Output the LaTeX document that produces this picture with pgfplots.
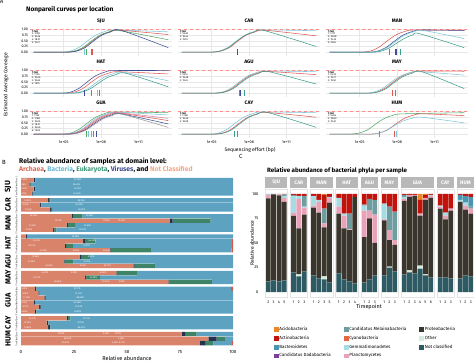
\documentclass[border=0pt]{standalone}
\usepackage{pgfplots}
\pgfplotsset{compat=1.18}
\usepackage{pgfplotstable}
\usepackage{fontspec}
\setmainfont{Fira Sans}
\newcommand{\fs}[1]{\fontsize{#1}{#1}\selectfont}
% panel A colours
\definecolor{aRed}{HTML}{DD5A52}
\definecolor{aNavy}{HTML}{3C4F96}
\definecolor{aTeal}{HTML}{3C9C8C}
\definecolor{aLight}{HTML}{7FC6D9}
\definecolor{aGreen}{HTML}{55A868}
\definecolor{aGray}{HTML}{9A9A9A}
\definecolor{aPink}{HTML}{D982A8}
% panel B colours
\definecolor{bArch}{HTML}{D9836B}
\definecolor{bVir}{HTML}{24324F}
\definecolor{bEuk}{HTML}{3F8466}
\definecolor{bBac}{HTML}{5DA3C1}
\definecolor{bNC}{HTML}{D9574A}
\definecolor{tArch}{HTML}{DA6A55}
\definecolor{tBac}{HTML}{6EB6D3}
\definecolor{tEuk}{HTML}{3E9A7C}
\definecolor{tVir}{HTML}{3B4A8B}
\definecolor{tNC}{HTML}{F3A584}
% panel C colours
\definecolor{cNC}{HTML}{2E5B63}
\definecolor{cOt}{HTML}{D5ECDD}
\definecolor{cPr}{HTML}{3B362D}
\definecolor{cPl}{HTML}{E8A3B9}
\definecolor{cGe}{HTML}{A6DCE6}
\definecolor{cCy}{HTML}{E4673F}
\definecolor{cMe}{HTML}{6F9C9F}
\definecolor{cDa}{HTML}{7A3E9D}
\definecolor{cBa}{HTML}{4A96B0}
\definecolor{cAc}{HTML}{C1120B}
\definecolor{cAd}{HTML}{E8882A}
\definecolor{stripC}{HTML}{B8B8B8}

\pgfplotsset{/pgf/number format/assume math mode=true}
\pgfplotsset{
 np/.style={scale only axis, width=142pt, height=28pt, xmin=2.3, xmax=13.7, ymin=-0.17, ymax=1.07,
  axis line style={draw=none}, tick style={draw=none},
  xtick={5,8,11}, ytick={0,0.25,0.5,0.75,1},
  grid=major, grid style={gray!18, line width=0.3pt},
  xticklabels={}, yticklabels={},
  title style={font=\bfseries\fs{5}, yshift=-4.5pt},
  clip=false, anchor=north west},
 npleft/.style={yticklabels={0.00,0.25,0.50,0.75,1.00}, yticklabel style={font=\fs{3.6}, xshift=1.5pt}},
 npbottom/.style={xticklabels={1e+05,1e+08,1e+11}, xticklabel style={font=\fs{3.8}, yshift=1pt}},
 cv/.style={smooth, tension=0.5, line width=0.55pt, mark=none},
 mk/.style={line width=0.7pt, mark=none},
 dl/.style={red!45, dashed, line width=0.3pt, mark=none},
}
\newcommand{\nd}[1]{\node[anchor=north west, align=left, font=\fontsize{2.5}{2.9}\selectfont, inner sep=0pt] at (rel axis cs:0.012,0.93) {#1};}
\newcommand{\grp}[2]{\node[rotate=90, font=\bfseries\fs{7.5}, inner sep=0pt] at (axis cs:-6.1,#1) {#2};}
\newcommand{\fr}[2]{\draw[gray!22, line width=0.3pt] (axis cs:#1,-5) rectangle (axis cs:#2,105);}
\newcommand{\strip}[3]{\node[fill=stripC, text=white, font=\bfseries\fs{5}, minimum width=#2pt, minimum height=10.5pt, inner sep=0pt, anchor=south, yshift=1pt] at (axis cs:#1,105) {#3};}

\pgfplotstableread{
y a v e b n
179.93 6.0 0.5 0.3 93.2 0
184.48 4.0 0.4 0.2 95.4 0
189.03 6.0 0.6 0.3 93.1 0
193.58 5.0 0.5 0.2 94.3 0
200.34 12.8 0.7 0.3 86.2 0
204.89 9.0 0.4 0.2 90.4 0
209.44 13.7 0.7 0.3 85.3 0
216.2 24 0.5 4.5 71 0
220.75 70.2 1.3 18 10.5 0
225.3 21.5 0.6 3.4 74.5 0
229.85 15.2 0.5 1.0 83.3 0
236.61 2.4 0.5 0.1 97 0
241.16 29.3 0.8 5 64.4 0.5
245.71 20.7 0.6 3.2 75 0.5
250.26 42 0.3 19.3 37.7 0.7
257.02 27.8 0.6 4.1 67.5 0
261.57 20.3 0.3 4.1 75.3 0
266.12 53 0.6 9.6 36.8 0
272.88 45 0.6 9 45.4 0
277.43 30.2 0.6 6.5 62.7 0
281.98 69.5 0.5 20 10 0
288.74 6.6 0.4 0.2 91.8 1.0
293.29 8.2 0.4 0.2 91.2 0
297.84 11 0.6 0.3 88.1 0
302.39 6.1 0.4 0.2 93.3 0
306.94 8.6 0.6 0.2 90.6 0
311.49 6.6 0.4 0.2 92.8 0
318.25 21.5 0.6 1.2 76.7 0
322.8 12.1 0.6 0.2 87.1 0
327.35 12.8 0.8 0.3 86.1 0
334.11 75.8 1.6 5.5 17.1 0
338.66 88.4 3.9 4.2 3.5 0
343.21 84.4 2.4 4 8.7 0.5
}\tabB

\pgfplotstableread{
x y l
3.0 179.93 6.02
53.4 179.93 93.18
2.0 184.48 3.98
52.3 184.48 95.42
3.0 189.03 5.97
53.45 189.03 93.12
2.5 193.58 4.95
52.85 193.58 94.30
6.4 200.34 12.81
56.9 200.34 86.19
4.5 204.89 9.02
54.8 204.89 90.38
6.85 209.44 13.66
57.35 209.44 85.31
12 216.2 24.05
64.5 216.2 70.98
35.1 220.75 70.21
80.5 220.75 17.96
94.75 220.75 10.49
10.75 225.3 21.49
62.75 225.3 74.52
7.6 229.85 15.18
58.35 229.85 83.31
51.5 236.61 96.98
14.65 241.16 29.31
67.3 241.16 64.39
10.35 245.71 20.72
62 245.71 75.01
21 250.26 42.03
51.95 250.26 19.31
80.45 250.26 37.66
13.9 257.02 27.83
66.25 257.02 67.52
10.15 261.57 20.28
62.35 261.57 75.33
26.5 266.12 53.02
58.4 266.12 9.61
81.6 266.12 36.77
22.5 272.88 44.97
50.1 272.88 9.02
77.3 272.88 45.41
15.1 277.43 30.22
68.65 277.43 62.69
34.75 281.98 69.48
80 281.98 20.03
95 281.98 9.99
3.3 288.74 6.61
53.1 288.74 91.77
4.1 293.29 8.19
54.4 293.29 91.21
5.5 297.84 11.02
55.95 297.84 88.08
3.05 302.39 6.12
53.35 302.39 93.28
4.3 306.94 8.57
54.7 306.94 90.63
3.3 311.49 6.58
53.6 311.49 92.82
10.75 318.25 21.47
61.65 318.25 76.71
6.05 322.8 12.09
56.45 322.8 87.12
6.4 327.35 12.83
56.95 327.35 86.07
37.9 334.11 75.81
80.15 334.11 5.49
91.45 334.11 17.12
44.2 338.66 88.40
94.4 338.66 4.18
42.2 343.21 84.37
88.8 343.21 4.02
95.15 343.21 8.71
}\labB

\pgfplotstableread{
x nc ot pr pl ge cy me da ba ac ad
268.2 11 0 84.5 3.5 0.5 0 0.3 0 0.2 0 0
273.5 12 0 87.5 0.3 0 0 0 0 0.2 0 0
278.9 11 0 87.5 1.0 0.3 0 0 0 0 0.2 0
284.2 12 0 80 4 2 0 1.5 0 0 0.5 0
293.5 20 0 57.5 3 17 0 1.5 0 0 1 0
298.8 16 2 47 30 3 0 0 0 0 2 0
304.2 21 0 58 7 1 0 11 0 0 2 0
313.5 17 0 69 2 10 0 0 0 0 2 0
318.8 14 0 67 11 2 0 0 0 0 6 0
324.2 13 3 50 4 0 0 15 0 0 14 1
329.5 10 0 81 5 1 0 0 0 0 3 0
338.8 19 0 61 7 9 0 0 0 0 4 0
344.1 13 0 52 13 2 0 0 0 0 20 0
349.5 11 0 52 1 0 0 16 0 0 20 0
354.8 9 0 88 0 0 0 0 0 0 3 0
364.1 10 0 46 27 5 0 1 0 0 11 0
369.4 13 0 62 8 0 0 12 0 0 5 0
374.8 17 0 33 29 0 0 15 0 0 6 0
384.1 17 0 56 1 16 0 0 0 0 10 0
389.4 25 1 27 10 0 0 24 0 0 13 0
394.8 21 0 27 5 0 0 29 0 0 18 0
404.1 18 0 75 2 2 0 2 0 0 1 0
409.4 20 2 75 2 0 0 0 0 0 1 0
414.8 19 0 79 1 0 0 0 0 0 1 0
420.1 24 3 51 2 0 0 0 0 0 14 6
425.4 17 1 76 2 0 0 0 0 0 3 1
430.8 15 0 81 2 1 0 0 0 0 1 0
440.1 15 0 70 2 1 0 0 0 0 12 0
445.4 15 0 59 4 3 0 0 0 0 19 0
450.8 14 0 69 2 0 0 0 0 0 15 0
460.1 14 0 78 0 2 0 0 0 5 1 0
465.4 17 0 67 4 3 0 0 0 7 2 0
470.8 16 0 64 5 0 0 2 0 10 3 0
}\tabC

\begin{document}
\begin{tikzpicture}[x=1pt,y=1pt]
\useasboundingbox (0pt,0pt) rectangle (474pt,361pt);

% ================= Panel A =================
\node[anchor=north west, font=\fs{5.5}, inner sep=0pt] at (0pt,361pt) {A};
\node[anchor=west, font=\bfseries\fs{6.5}, inner sep=0pt] at (26pt,351pt) {Nonpareil curves per location};
\node[rotate=90, font=\fs{5}] at (6pt,276pt) {Estimated Average Coverage};
\node[font=\fs{5}] at (250pt,211pt) {Sequencing effort (bp)};

% SJU
\begin{axis}[np, npleft, at={(30pt,333pt)}, title={SJU}]
\addplot[dl] coordinates {(2.3,1)(13.7,1)};
\addplot[aLight, cv] coordinates {(2.6,0)(4.7,0)(5.5,0.04)(6.2,0.2)(6.9,0.49)(7.6,0.76)(8.3,0.91)(9.1,0.98)(13.4,0.9)};
\addplot[aRed, cv] coordinates {(2.6,0)(5.1,0)(5.9,0.04)(6.6,0.19)(7.3,0.49)(8.0,0.76)(8.7,0.9)(9.5,0.97)(13.4,0.78)};
\addplot[aGreen, cv] coordinates {(2.6,0)(5.0,0)(5.8,0.04)(6.5,0.19)(7.2,0.48)(7.9,0.75)(8.6,0.89)(9.4,0.96)(13.4,0.55)};
\addplot[aNavy, cv] coordinates {(2.6,0)(5.2,0)(6.0,0.04)(6.7,0.19)(7.4,0.49)(8.1,0.76)(8.8,0.9)(9.6,0.97)(13.4,0.2)};
\addplot[aLight, mk] coordinates {(6.7,-0.13)(6.7,0.12)};
\addplot[aGreen, mk] coordinates {(6.85,-0.13)(6.85,0.12)};
\addplot[aRed, mk] coordinates {(7.2,-0.13)(7.2,0.12)};
\addplot[aRed, mk] coordinates {(7.32,-0.13)(7.32,0.12)};
\nd{\textbf{T: Nd:}\\2: 17.98\\3: 18.36\\4: 18.57\\5: 19.21}
\end{axis}
% CAR
\begin{axis}[np, at={(178pt,333pt)}, title={CAR}]
\addplot[dl] coordinates {(2.3,1)(13.7,1)};
\addplot[aLight, cv] coordinates {(2.6,0)(4.8,0)(5.6,0.04)(6.3,0.2)(7.0,0.49)(7.7,0.76)(8.4,0.91)(9.2,0.98)(13.4,0.95)};
\addplot[aRed, cv] coordinates {(2.6,0)(4.9,0)(5.7,0.04)(6.4,0.19)(7.1,0.49)(7.8,0.76)(8.5,0.9)(9.3,0.97)(13.4,0.72)};
\addplot[aTeal, cv] coordinates {(2.6,0)(4.8,0)(5.6,0.04)(6.3,0.19)(7.0,0.48)(7.7,0.75)(8.4,0.89)(9.2,0.96)(13.4,0.25)};
\addplot[aNavy, mk] coordinates {(7.1,-0.13)(7.1,0.12)};
\nd{\textbf{T: Nd:}\\1: 18.02\\2: 18.44\\3: 19.10}
\end{axis}
% MAN
\begin{axis}[np, at={(326pt,333pt)}, title={MAN}]
\addplot[dl] coordinates {(2.3,1)(13.7,1)};
\addplot[aRed, cv] coordinates {(2.6,0)(5.0,0)(5.8,0.04)(6.5,0.2)(7.2,0.49)(7.9,0.76)(8.6,0.91)(9.4,0.98)(13.4,0.97)};
\addplot[aNavy, cv] coordinates {(2.6,0)(5.6,0)(6.4,0.04)(7.1,0.2)(7.8,0.49)(8.5,0.76)(9.2,0.91)(10.0,0.98)(13.4,0.96)};
\addplot[aLight, cv] coordinates {(2.6,0)(5.7,0)(6.5,0.04)(7.2,0.19)(7.9,0.48)(8.6,0.75)(9.3,0.89)(10.1,0.96)(13.4,0.6)};
\addplot[aTeal, cv] coordinates {(2.6,0)(5.8,0)(6.6,0.03)(7.3,0.16)(8.0,0.41)(8.7,0.64)(9.3,0.77)(9.8,0.82)(13.4,0.2)};
\addplot[aRed, mk] coordinates {(7.4,-0.13)(7.4,0.12)};
\addplot[aNavy, mk] coordinates {(7.85,-0.13)(7.85,0.12)};
\addplot[aNavy, mk] coordinates {(7.95,-0.13)(7.95,0.12)};
\addplot[aTeal, mk] coordinates {(8.3,-0.13)(8.3,0.12)};
\nd{\textbf{T: Nd:}\\1: 17.71\\2: 18.88\\3: 19.35\\5: 19.94}
\end{axis}
% HAT
\begin{axis}[np, npleft, at={(30pt,292pt)}, title={HAT}]
\addplot[dl] coordinates {(2.3,1)(13.7,1)};
\addplot[aNavy, cv] coordinates {(2.6,0)(4.7,0)(5.5,0.04)(6.2,0.2)(6.9,0.5)(7.6,0.78)(8.3,0.93)(9.1,1.0)(13.4,1.0)};
\addplot[aRed, cv] coordinates {(2.6,0)(5.0,0)(5.8,0.04)(6.5,0.19)(7.2,0.48)(7.9,0.74)(8.6,0.88)(9.4,0.95)(13.4,0.85)};
\addplot[aLight, cv] coordinates {(2.6,0)(5.4,0)(6.2,0.04)(6.9,0.18)(7.6,0.46)(8.3,0.72)(9.0,0.86)(9.8,0.92)(13.4,0.55)};
\addplot[aTeal, cv] coordinates {(2.6,0)(5.6,0)(6.4,0.04)(7.1,0.18)(7.8,0.44)(8.5,0.69)(9.2,0.82)(10.0,0.88)(13.4,0.28)};
\addplot[aNavy, mk] coordinates {(6.7,-0.13)(6.7,0.12)};
\addplot[aRed, mk] coordinates {(7.2,-0.13)(7.2,0.12)};
\addplot[aLight, mk] coordinates {(7.7,-0.13)(7.7,0.12)};
\addplot[aTeal, mk] coordinates {(7.85,-0.13)(7.85,0.12)};
\nd{\textbf{T: Nd:}\\1: 17.25\\2: 18.06\\3: 18.62\\4: 19.15}
\end{axis}
% AGU
\begin{axis}[np, at={(178pt,292pt)}, title={AGU}]
\addplot[dl] coordinates {(2.3,1)(13.7,1)};
\addplot[aLight, cv] coordinates {(2.6,0)(5.0,0)(5.8,0.04)(6.5,0.2)(7.2,0.49)(7.9,0.76)(8.6,0.91)(9.4,0.98)(13.4,0.95)};
\addplot[aRed, cv] coordinates {(2.6,0)(5.1,0)(5.9,0.04)(6.6,0.19)(7.3,0.48)(8.0,0.75)(8.7,0.89)(9.5,0.96)(13.4,0.82)};
\addplot[aTeal, cv] coordinates {(2.6,0)(5.2,0)(6.0,0.04)(6.7,0.19)(7.4,0.48)(8.1,0.74)(8.8,0.88)(9.6,0.95)(13.4,0.4)};
\addplot[aRed, mk] coordinates {(7.2,-0.13)(7.2,0.12)};
\addplot[aNavy, mk] coordinates {(7.32,-0.13)(7.32,0.12)};
\addplot[aTeal, mk] coordinates {(7.6,-0.13)(7.6,0.12)};
\nd{\textbf{T: Nd:}\\1: 18.13\\2: 18.48\\3: 19.24}
\end{axis}
% MAY
\begin{axis}[np, at={(326pt,292pt)}, title={MAY}]
\addplot[dl] coordinates {(2.3,1)(13.7,1)};
\addplot[aRed, cv] coordinates {(2.6,0)(5.5,0)(6.3,0.04)(7.0,0.2)(7.7,0.49)(8.4,0.76)(9.1,0.91)(9.9,0.98)(13.4,0.97)};
\addplot[aLight, cv] coordinates {(2.6,0)(5.3,0)(6.1,0.04)(6.8,0.19)(7.5,0.48)(8.2,0.74)(8.9,0.88)(9.7,0.95)(13.4,0.8)};
\addplot[aTeal, cv] coordinates {(2.6,0)(5.6,0)(6.4,0.04)(7.1,0.19)(7.8,0.48)(8.5,0.74)(9.2,0.88)(10.0,0.95)(13.4,0.2)};
\addplot[aRed, mk] coordinates {(7.6,-0.13)(7.6,0.12)};
\addplot[aTeal, mk] coordinates {(7.9,-0.13)(7.9,0.12)};
\nd{\textbf{T: Nd:}\\1: 18.33\\2: 18.71\\3: 19.52}
\end{axis}
% GUA
\begin{axis}[np, npleft, npbottom, at={(30pt,251pt)}, title={GUA}]
\addplot[dl] coordinates {(2.3,1)(13.7,1)};
\addplot[aGreen, cv] coordinates {(2.6,0)(4.7,0)(5.5,0.04)(6.2,0.2)(6.9,0.49)(7.6,0.76)(8.3,0.91)(9.1,0.98)(13.4,0.95)};
\addplot[aLight, cv] coordinates {(2.6,0)(4.9,0)(5.7,0.04)(6.4,0.19)(7.1,0.49)(7.8,0.76)(8.5,0.9)(9.3,0.97)(13.4,0.85)};
\addplot[aPink, cv] coordinates {(2.6,0)(5.0,0)(5.8,0.04)(6.5,0.19)(7.2,0.48)(7.9,0.74)(8.6,0.88)(9.4,0.95)(13.4,0.7)};
\addplot[aRed, cv] coordinates {(2.6,0)(5.1,0)(5.9,0.04)(6.6,0.19)(7.3,0.47)(8.0,0.73)(8.7,0.86)(9.5,0.93)(13.4,0.6)};
\addplot[aNavy, cv] coordinates {(2.6,0)(5.2,0)(6.0,0.04)(6.7,0.18)(7.4,0.45)(8.1,0.7)(8.8,0.84)(9.6,0.9)(13.4,0.45)};
\addplot[aGray, cv] coordinates {(2.6,0)(5.3,0)(6.1,0.04)(6.8,0.18)(7.5,0.44)(8.2,0.69)(8.9,0.82)(9.7,0.88)(13.4,0.3)};
\addplot[aGreen, mk] coordinates {(6.8,-0.13)(6.8,0.12)};
\addplot[aLight, mk] coordinates {(7.0,-0.13)(7.0,0.12)};
\addplot[aPink, mk] coordinates {(7.2,-0.13)(7.2,0.12)};
\addplot[aRed, mk] coordinates {(7.35,-0.13)(7.35,0.12)};
\addplot[aNavy, mk] coordinates {(7.6,-0.13)(7.6,0.12)};
\nd{\textbf{T: Nd:}\\1: 17.42\\2: 17.88\\3: 18.05\\4: 18.31\\5: 18.66\\6: 19.02}
\end{axis}
% CAY
\begin{axis}[np, npbottom, at={(178pt,251pt)}, title={CAY}]
\addplot[dl] coordinates {(2.3,1)(13.7,1)};
\addplot[aLight, cv] coordinates {(2.6,0)(4.7,0)(5.5,0.04)(6.2,0.2)(6.9,0.49)(7.6,0.76)(8.3,0.91)(9.1,0.98)(13.4,0.95)};
\addplot[aRed, cv] coordinates {(2.6,0)(5.0,0)(5.8,0.04)(6.5,0.19)(7.2,0.48)(7.9,0.75)(8.6,0.89)(9.4,0.96)(13.4,0.75)};
\addplot[aTeal, cv] coordinates {(2.6,0)(5.1,0)(5.9,0.04)(6.6,0.19)(7.3,0.48)(8.0,0.75)(8.7,0.89)(9.5,0.96)(13.4,0.3)};
\addplot[aTeal, mk] coordinates {(6.8,-0.13)(6.8,0.12)};
\addplot[aRed, mk] coordinates {(7.1,-0.13)(7.1,0.12)};
\nd{\textbf{T: Nd:}\\1: 17.88\\2: 18.36\\3: 18.90}
\end{axis}
% HUM
\begin{axis}[np, npbottom, at={(326pt,251pt)}, title={HUM}]
\addplot[dl] coordinates {(2.3,1)(13.7,1)};
\addplot[aGreen, cv] coordinates {(2.6,0)(4.1,0)(4.9,0.04)(5.6,0.18)(6.3,0.45)(7.0,0.7)(7.7,0.84)(8.5,0.9)(13.4,0.95)};
\addplot[aRed, cv] coordinates {(2.6,0)(5.7,0)(6.5,0.04)(7.2,0.18)(7.9,0.45)(8.6,0.7)(9.3,0.84)(10.1,0.9)(13.4,0.82)};
\addplot[aLight, cv] coordinates {(2.6,0)(5.6,0)(6.4,0.03)(7.1,0.15)(7.8,0.38)(8.5,0.59)(9.2,0.7)(10.0,0.75)(13.4,0.5)};
\addplot[aGreen, mk] coordinates {(6.6,-0.13)(6.6,0.12)};
\addplot[aRed, mk] coordinates {(7.8,-0.13)(7.8,0.12)};
\addplot[aLight, mk] coordinates {(7.92,-0.13)(7.92,0.12)};
\nd{\textbf{T: Nd:}\\1: 16.84\\2: 18.80\\3: 19.32}
\end{axis}

% ================= Panel B =================
\node[anchor=west, font=\fs{6}, inner sep=0pt] at (2pt,199pt) {B};
\node[anchor=west, font=\bfseries\fs{6.8}, inner sep=0pt] at (19pt,199pt) {Relative abundance of samples at domain level:};
\node[anchor=west, font=\bfseries\fs{6.8}, inner sep=0pt] at (19pt,191pt) {\textcolor{tArch}{Archaea}, \textcolor{tBac}{Bacteria}, \textcolor{tEuk}{Eukaryota}, \textcolor{tVir}{Viruses}, and \textcolor{tNC}{Not Classified}};

\begin{axis}[scale only axis, width=212pt, height=171pt, at={(21pt,14pt)}, anchor=south west,
  xmin=0, xmax=100, ymin=176, ymax=347, y dir=reverse,
  xbar stacked, bar width=4.25,
  axis line style={draw=none}, tick style={draw=none},
  xtick={0,25,50,75,100}, xticklabel style={font=\fs{4.5}},
  ytick={179.93,184.48,189.03,193.58,200.34,204.89,209.44,216.2,220.75,225.3,229.85,236.61,241.16,245.71,250.26,257.02,261.57,266.12,272.88,277.43,281.98,288.74,293.29,297.84,302.39,306.94,311.49,318.25,322.8,327.35,334.11,338.66,343.21},
  yticklabels={Time 2,Time 3,Time 4,Time 5,Time 1,Time 2,Time 3,Time 1,Time 2,Time 3,Time 5,Time 1,Time 2,Time 3,Time 4,Time 1,Time 2,Time 3,Time 1,Time 2,Time 3,Time 1,Time 2,Time 3,Time 4,Time 5,Time 6,Time 1,Time 2,Time 3,Time 1,Time 2,Time 3},
  yticklabel style={rotate=90, anchor=south, font=\fs{2.4}, text=gray!70!black},
  xlabel={Relative abundance}, xlabel style={font=\fs{5.5}, at={(axis description cs:0.5,-0.064)}, anchor=center},
  clip=false]
\addplot[fill=bArch, draw=none] table[x=a, y=y] {\tabB};
\addplot[fill=bVir, draw=none] table[x=v, y=y] {\tabB};
\addplot[fill=bEuk, draw=none] table[x=e, y=y] {\tabB};
\addplot[fill=bBac, draw=none] table[x=b, y=y] {\tabB};
\addplot[fill=bNC, draw=none] table[x=n, y=y] {\tabB};
\addplot[stack plots=false, draw=none, fill=none, nodes near coords={\pgfplotspointmeta\%}, point meta=explicit symbolic,
  every node near coord/.append style={anchor=center, font=\fs{2.3}, text=white, inner sep=0pt}] table[x=x, y=y, meta=l] {\labB};
\grp{186.76}{SJU}
\grp{204.89}{CAR}
\grp{223.03}{MAN}
\grp{243.44}{HAT}
\grp{261.57}{AGU}
\grp{277.43}{MAY}
\grp{300.12}{GUA}
\grp{322.8}{CAY}
\grp{338.66}{HUM}
\end{axis}

% ================= Panel C =================
\node[anchor=west, font=\fs{6}, inner sep=0pt] at (239pt,205pt) {C};
\node[anchor=west, font=\bfseries\fs{6.2}, inner sep=0pt] at (267pt,190pt) {Relative abundance of bacterial phyla per sample};

\begin{axis}[scale only axis, width=212pt, height=108pt, at={(262pt,172pt)}, anchor=north west,
  xmin=262, xmax=474, ymin=-5, ymax=105,
  ybar stacked, bar width=4.8,
  axis line style={draw=none}, tick style={draw=none},
  ytick={0,25,50,75,100}, yticklabel style={font=\fs{4}},
  xtick={268.2,273.5,278.9,284.2,293.5,298.8,304.2,313.5,318.8,324.2,329.5,338.8,344.1,349.5,354.8,364.1,369.4,374.8,384.1,389.4,394.8,404.1,409.4,414.8,420.1,425.4,430.8,440.1,445.4,450.8,460.1,465.4,470.8},
  xticklabels={2,3,4,5,1,2,3,1,2,3,5,1,2,3,4,1,2,3,1,2,3,1,2,3,4,5,6,1,2,3,1,2,3},
  xticklabel style={font=\fs{3.8}},
  ylabel={Relative abundance}, ylabel style={font=\fs{5}, at={(axis description cs:-0.047,0.5)}, anchor=center},
  xlabel={Timepoint}, xlabel style={font=\fs{5.5}, at={(axis description cs:0.505,-0.093)}, anchor=center},
  clip=false,
  legend image code/.code={\fill[#1] (0pt,-2.4pt) rectangle (5pt,2.4pt);},
  legend columns=3,
  legend style={draw=none, fill=none, font=\fs{4.5}, at={(axis description cs:0.04,-0.25)}, anchor=north west,
    legend cell align=left, row sep=2.2pt, /tikz/every even column/.append style={column sep=12pt},
    nodes={inner sep=0.8pt}},
  ]
\fr{265}{287.4}
\fr{290.3}{307.4}
\fr{310.3}{332.7}
\fr{335.6}{358.0}
\fr{360.9}{378.0}
\fr{380.9}{398.0}
\fr{400.9}{434.0}
\fr{436.9}{454.0}
\fr{456.9}{474.0}
\addplot[fill=cNC, draw=none, forget plot] table[x=x, y=nc] {\tabC};
\addplot[fill=cOt, draw=none, forget plot] table[x=x, y=ot] {\tabC};
\addplot[fill=cPr, draw=none, forget plot] table[x=x, y=pr] {\tabC};
\addplot[fill=cPl, draw=none, forget plot] table[x=x, y=pl] {\tabC};
\addplot[fill=cGe, draw=none, forget plot] table[x=x, y=ge] {\tabC};
\addplot[fill=cCy, draw=none, forget plot] table[x=x, y=cy] {\tabC};
\addplot[fill=cMe, draw=none, forget plot] table[x=x, y=me] {\tabC};
\addplot[fill=cDa, draw=none, forget plot] table[x=x, y=da] {\tabC};
\addplot[fill=cBa, draw=none, forget plot] table[x=x, y=ba] {\tabC};
\addplot[fill=cAc, draw=none, forget plot] table[x=x, y=ac] {\tabC};
\addplot[fill=cAd, draw=none, forget plot] table[x=x, y=ad] {\tabC};
\strip{276.2}{22.4}{SJU}
\strip{298.85}{17.1}{CAR}
\strip{321.5}{22.4}{MAN}
\strip{346.8}{22.4}{HAT}
\strip{369.45}{17.1}{AGU}
\strip{389.45}{17.1}{MAY}
\strip{417.45}{33.1}{GUA}
\strip{445.45}{17.1}{CAY}
\strip{465.45}{17.1}{HUM}
\addlegendimage{fill=cAd, draw=none}\addlegendentry{Acidobacteria}
\addlegendimage{fill=cMe, draw=none}\addlegendentry{Candidatus Melainabacteria}
\addlegendimage{fill=cPr, draw=none}\addlegendentry{Proteobacteria}
\addlegendimage{fill=cAc, draw=none}\addlegendentry{Actinobacteria}
\addlegendimage{fill=cCy, draw=none}\addlegendentry{Cyanobacteria}
\addlegendimage{fill=cOt, draw=none}\addlegendentry{Other}
\addlegendimage{fill=cBa, draw=none}\addlegendentry{Bacteroidetes}
\addlegendimage{fill=cGe, draw=none}\addlegendentry{Gemmatimonadetes}
\addlegendimage{fill=cNC, draw=none}\addlegendentry{Not classified}
\addlegendimage{fill=cDa, draw=none}\addlegendentry{Candidatus Dadabacteria}
\addlegendimage{fill=cPl, draw=none}\addlegendentry{Planctomycetes}
\end{axis}
\end{tikzpicture}
\end{document}
